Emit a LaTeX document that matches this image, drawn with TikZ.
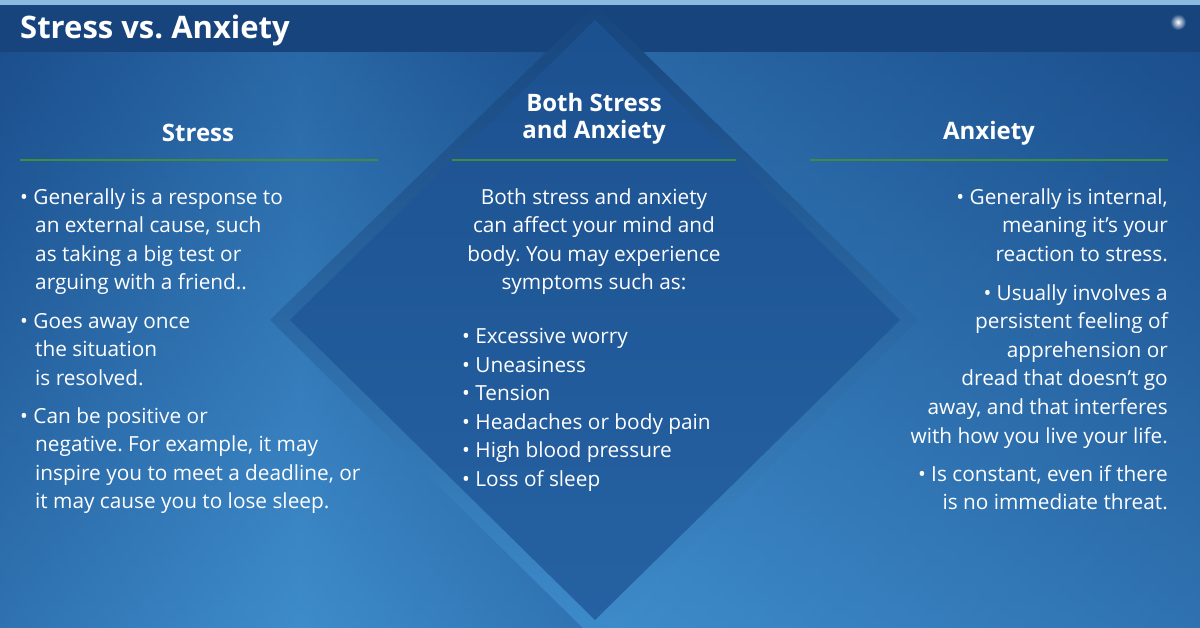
\documentclass[tikz,border=0pt]{standalone}
\usepackage{fontspec}
\setmainfont{Open Sans}
\frenchspacing
\begin{document}
\begin{tikzpicture}[x=1pt,y=-1pt,
  body/.style={text=white,font=\fontsize{20.8}{28.6}\selectfont,inner sep=0pt},
  head/.style={text=white,font=\fontsize{24}{27}\selectfont\bfseries,inner sep=0pt,align=center},
  rule/.style={draw=green!35!gray!80!black,line width=1.6pt}]
\definecolor{navy}{HTML}{1A4C8A}
\definecolor{mid}{HTML}{3E8CCB}
\definecolor{dia}{HTML}{1E5596}
\useasboundingbox (0,0) rectangle (1200,628);
\shade[left color=navy,right color=navy,middle color=mid] (0,0) rectangle (600,628);
\shade[left color=mid,right color=navy] (600,0) rectangle (1200,628);
\shade[top color=navy,bottom color=navy!0!mid,opacity=0.6] (0,0) rectangle (1200,628);
\fill[navy!90!black] (0,5) rectangle (1200,52);
\fill[mid!60!white] (0,0) rectangle (1200,5);
\shade[top color=navy!90!black,bottom color=mid] (595,5) -- (918,320) -- (595,640) -- (270,320) -- cycle;
\fill[dia,opacity=0.75] (595,20) -- (900,320) -- (595,620) -- (290,320) -- cycle;
\shade[inner color=white,outer color=navy!90!black] (1178,22) circle (8);
\node[anchor=west,text=white,font=\fontsize{31}{34}\selectfont\bfseries,inner sep=0pt] (title) at (20,30) {Stress vs.\ Anxiety};
\node[head] (hs) at (198,133) {Stress};
\node[head] (hb) at (594,119) {Both Stress\\and Anxiety};
\node[head] (ha) at (989,133) {Anxiety};
\draw[rule] (20,160) -- (378,160);
\draw[rule] (452,160) -- (736,160);
\draw[rule] (810,160) -- (1168,160);
\node[body,anchor=north west,align=left] (s1) at (20,188) {• Generally is a response to\\\hspace*{15pt}an external cause, such\\\hspace*{15pt}as taking a big test or\\\hspace*{15pt}arguing with a friend..};
\node[body,anchor=north west,align=left] (s2) at (20,313) {• Goes away once\\\hspace*{15pt}the situation\\\hspace*{15pt}is resolved.};
\node[body,anchor=north west,align=left] (s3) at (20,407) {• Can be positive or\\\hspace*{15pt}negative. For example, it may\\\hspace*{15pt}inspire you to meet a deadline, or\\\hspace*{15pt}it may cause you to lose sleep.};
\node[body,anchor=north,align=center] (b1) at (594,188) {Both stress and anxiety\\can affect your mind and\\body. You may experience\\symptoms such as:};
\node[body,anchor=north west,align=left] (b2) at (462,328) {• Excessive worry\\• Uneasiness\\• Tension\\• Headaches or body pain\\• High blood pressure\\• Loss of sleep};
\node[body,anchor=north east,align=right] (a1) at (1168,188) {• Generally is internal,\\meaning it’s your\\reaction to stress.};
\node[body,anchor=north east,align=right] (a2) at (1168,284) {• Usually involves a\\persistent feeling of\\apprehension or\\dread that doesn’t go\\away, and that interferes\\with how you live your life.};
\node[body,anchor=north east,align=right] (a3) at (1168,465) {• Is constant, even if there\\is no immediate threat.};
\end{tikzpicture}
\end{document}
